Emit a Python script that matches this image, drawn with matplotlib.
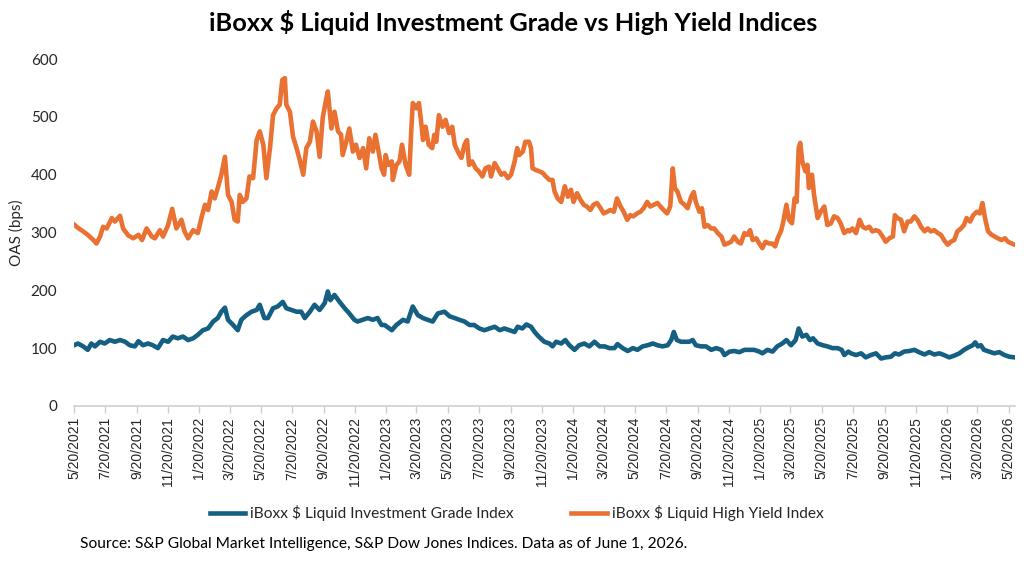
import pandas as pd
import matplotlib
matplotlib.use('Agg')
import matplotlib.pyplot as plt
import matplotlib.dates as mdates
from matplotlib.ticker import FuncFormatter

# iBoxx $ Liquid High Yield Index, OAS (bps)
hy_dates = [
    '2021-05-20', '2021-05-28', '2021-06-07', '2021-06-16', '2021-06-27', '2021-07-03', '2021-07-10', '2021-07-16',
    '2021-07-23', '2021-08-02', '2021-08-08', '2021-08-18', '2021-08-24', '2021-09-03', '2021-09-13', '2021-09-23',
    '2021-09-30', '2021-10-09', '2021-10-19', '2021-10-25', '2021-11-04', '2021-11-10', '2021-11-20', '2021-11-28',
    '2021-12-06', '2021-12-16', '2021-12-22', '2021-12-29', '2022-01-08', '2022-01-17', '2022-01-24', '2022-01-31',
    '2022-02-06', '2022-02-13', '2022-02-19', '2022-02-25', '2022-03-04', '2022-03-11', '2022-03-17', '2022-03-24',
    '2022-03-30', '2022-04-05', '2022-04-09', '2022-04-15', '2022-04-22', '2022-04-28', '2022-05-05', '2022-05-12',
    '2022-05-18', '2022-05-25', '2022-05-31', '2022-06-07', '2022-06-13', '2022-06-20', '2022-06-26', '2022-07-01',
    '2022-07-06', '2022-07-09', '2022-07-16', '2022-07-22', '2022-07-29', '2022-08-04', '2022-08-11', '2022-08-17',
    '2022-08-24', '2022-08-30', '2022-09-06', '2022-09-12', '2022-09-18', '2022-09-25', '2022-09-28', '2022-10-05',
    '2022-10-11', '2022-10-18', '2022-10-24', '2022-10-27', '2022-11-03', '2022-11-09', '2022-11-16', '2022-11-22',
    '2022-11-29', '2022-12-06', '2022-12-12', '2022-12-18', '2022-12-25', '2022-12-30', '2023-01-04', '2023-01-11',
    '2023-01-16', '2023-01-19', '2023-01-24', '2023-01-31', '2023-02-02', '2023-02-09', '2023-02-15', '2023-02-20',
    '2023-02-27', '2023-03-06', '2023-03-10', '2023-03-13', '2023-03-20', '2023-03-25', '2023-03-30', '2023-04-02',
    '2023-04-07', '2023-04-13', '2023-04-20', '2023-04-24', '2023-04-28', '2023-05-03', '2023-05-10', '2023-05-16',
    '2023-05-23', '2023-05-29', '2023-06-03', '2023-06-09', '2023-06-16', '2023-06-22', '2023-06-27', '2023-07-01',
    '2023-07-07', '2023-07-14', '2023-07-20', '2023-07-27', '2023-08-02', '2023-08-09', '2023-08-13', '2023-08-20',
    '2023-08-26', '2023-09-02', '2023-09-08', '2023-09-15', '2023-09-21', '2023-09-28', '2023-10-03', '2023-10-07',
    '2023-10-14', '2023-10-19', '2023-10-26', '2023-10-30', '2023-11-02', '2023-11-09', '2023-11-15', '2023-11-22',
    '2023-11-28', '2023-12-05', '2023-12-11', '2023-12-15', '2023-12-21', '2023-12-28', '2024-01-04', '2024-01-10',
    '2024-01-16', '2024-01-21', '2024-01-28', '2024-02-04', '2024-02-10', '2024-02-16', '2024-02-23', '2024-02-29',
    '2024-03-07', '2024-03-14', '2024-03-20', '2024-03-27', '2024-04-02', '2024-04-09', '2024-04-15', '2024-04-22',
    '2024-04-28', '2024-05-05', '2024-05-11', '2024-05-17', '2024-05-24', '2024-05-31', '2024-06-06', '2024-06-13',
    '2024-06-19', '2024-06-26', '2024-07-03', '2024-07-09', '2024-07-15', '2024-07-22', '2024-07-28', '2024-08-02',
    '2024-08-06', '2024-08-11', '2024-08-18', '2024-08-25', '2024-08-31', '2024-09-07', '2024-09-12', '2024-09-16',
    '2024-09-23', '2024-09-28', '2024-10-03', '2024-10-09', '2024-10-16', '2024-10-22', '2024-10-29', '2024-11-05',
    '2024-11-11', '2024-11-17', '2024-11-24', '2024-11-30', '2024-12-07', '2024-12-13', '2024-12-20', '2024-12-26',
    '2024-12-31', '2025-01-05', '2025-01-12', '2025-01-18', '2025-01-24', '2025-01-30', '2025-02-06', '2025-02-12',
    '2025-02-18', '2025-02-23', '2025-03-02', '2025-03-06', '2025-03-12', '2025-03-17', '2025-03-23', '2025-03-28',
    '2025-04-01', '2025-04-05', '2025-04-08', '2025-04-12', '2025-04-18', '2025-04-22', '2025-04-25', '2025-05-01',
    '2025-05-05', '2025-05-12', '2025-05-18', '2025-05-25', '2025-05-31', '2025-06-07', '2025-06-13', '2025-06-20',
    '2025-06-26', '2025-07-03', '2025-07-10', '2025-07-13', '2025-07-19', '2025-07-26', '2025-08-02', '2025-08-08',
    '2025-08-14', '2025-08-21', '2025-08-27', '2025-09-03', '2025-09-09', '2025-09-16', '2025-09-22', '2025-09-29',
    '2025-10-06', '2025-10-10', '2025-10-15', '2025-10-22', '2025-10-28', '2025-11-04', '2025-11-10', '2025-11-17',
    '2025-11-23', '2025-11-30', '2025-12-07', '2025-12-13', '2025-12-19', '2025-12-26', '2026-01-02', '2026-01-08',
    '2026-01-14', '2026-01-21', '2026-01-27', '2026-02-03', '2026-02-09', '2026-02-16', '2026-02-22', '2026-02-27',
    '2026-03-06', '2026-03-12', '2026-03-19', '2026-03-25', '2026-03-30', '2026-04-04', '2026-04-10', '2026-04-17',
    '2026-04-23', '2026-04-29', '2026-05-06', '2026-05-13', '2026-05-19', '2026-05-26', '2026-06-01',
]
hy_oas = [
    314, 308, 302, 296, 287, 281, 293, 310,
    307, 325, 319, 329, 307, 295, 290, 296,
    287, 307, 293, 290, 304, 293, 313, 341,
    307, 322, 302, 290, 304, 299, 325, 348,
    339, 371, 359, 377, 400, 431, 365, 353,
    322, 319, 365, 353, 359, 397, 394, 460,
    475, 452, 394, 446, 503, 515, 521, 564,
    567, 521, 509, 466, 446, 426, 400, 446,
    457, 492, 475, 431, 498, 532, 544, 480,
    509, 475, 469, 434, 457, 480, 440, 452,
    429, 446, 411, 463, 440, 469, 446, 411,
    400, 434, 417, 423, 391, 417, 423, 452,
    417, 400, 475, 524, 515, 524, 486, 460,
    483, 452, 446, 469, 457, 503, 483, 495,
    472, 483, 452, 440, 429, 452, 460, 417,
    423, 411, 406, 397, 411, 414, 397, 420,
    411, 400, 403, 394, 400, 423, 446, 434,
    440, 457, 457, 446, 411, 408, 406, 403,
    397, 391, 391, 371, 359, 353, 380, 362,
    374, 353, 368, 356, 348, 345, 339, 348,
    351, 342, 333, 336, 339, 336, 359, 345,
    336, 322, 330, 328, 333, 336, 342, 353,
    345, 348, 351, 345, 339, 333, 345, 411,
    377, 371, 353, 348, 342, 362, 370, 353,
    336, 342, 310, 313, 307, 307, 299, 293,
    279, 281, 284, 293, 284, 281, 299, 296,
    304, 287, 290, 281, 273, 284, 281, 281,
    276, 290, 304, 319, 348, 322, 316, 359,
    353, 446, 455, 423, 406, 417, 377, 400,
    365, 325, 336, 345, 313, 316, 328, 325,
    316, 299, 304, 302, 307, 299, 322, 310,
    307, 310, 302, 304, 302, 293, 284, 290,
    293, 330, 325, 322, 302, 319, 319, 328,
    322, 310, 302, 307, 302, 304, 299, 296,
    287, 279, 284, 287, 302, 307, 313, 325,
    319, 330, 336, 333, 351, 325, 302, 296,
    293, 290, 287, 290, 284, 281, 279,
]

# iBoxx $ Liquid Investment Grade Index, OAS (bps)
ig_dates = [
    '2021-05-20', '2021-05-28', '2021-06-07', '2021-06-16', '2021-06-23', '2021-06-30', '2021-07-10', '2021-07-19',
    '2021-07-29', '2021-08-08', '2021-08-18', '2021-08-28', '2021-09-06', '2021-09-16', '2021-09-23', '2021-10-02',
    '2021-10-12', '2021-10-21', '2021-10-31', '2021-11-10', '2021-11-20', '2021-11-29', '2021-12-09', '2021-12-19',
    '2021-12-29', '2022-01-08', '2022-01-17', '2022-01-27', '2022-02-06', '2022-02-16', '2022-02-25', '2022-03-04',
    '2022-03-11', '2022-03-17', '2022-03-27', '2022-04-05', '2022-04-12', '2022-04-22', '2022-05-02', '2022-05-12',
    '2022-05-18', '2022-05-27', '2022-06-03', '2022-06-13', '2022-06-22', '2022-07-02', '2022-07-09', '2022-07-19',
    '2022-07-29', '2022-08-07', '2022-08-14', '2022-08-24', '2022-09-02', '2022-09-12', '2022-09-22', '2022-09-28',
    '2022-10-03', '2022-10-11', '2022-10-21', '2022-10-31', '2022-11-09', '2022-11-19', '2022-11-25', '2022-12-05',
    '2022-12-15', '2022-12-25', '2023-01-03', '2023-01-11', '2023-01-17', '2023-01-31', '2023-02-09', '2023-02-22',
    '2023-03-03', '2023-03-13', '2023-03-23', '2023-04-02', '2023-04-11', '2023-04-21', '2023-05-01', '2023-05-14',
    '2023-05-24', '2023-06-03', '2023-06-12', '2023-06-22', '2023-07-02', '2023-07-11', '2023-07-21', '2023-07-31',
    '2023-08-10', '2023-08-20', '2023-08-30', '2023-09-08', '2023-09-18', '2023-09-28', '2023-10-04', '2023-10-13',
    '2023-10-21', '2023-10-30', '2023-11-06', '2023-11-14', '2023-11-25', '2023-12-05', '2023-12-11', '2023-12-18',
    '2023-12-28', '2024-01-05', '2024-01-13', '2024-01-23', '2024-02-01', '2024-02-11', '2024-02-21', '2024-03-02',
    '2024-03-12', '2024-03-22', '2024-03-31', '2024-04-10', '2024-04-16', '2024-04-26', '2024-05-06', '2024-05-16',
    '2024-05-25', '2024-06-04', '2024-06-14', '2024-06-24', '2024-07-03', '2024-07-13', '2024-07-23', '2024-07-30',
    '2024-08-04', '2024-08-10', '2024-08-18', '2024-08-28', '2024-09-03', '2024-09-10', '2024-09-16', '2024-09-26',
    '2024-10-06', '2024-10-16', '2024-10-26', '2024-11-05', '2024-11-11', '2024-11-21', '2024-11-30', '2024-12-10',
    '2024-12-20', '2024-12-29', '2025-01-08', '2025-01-18', '2025-01-24', '2025-02-03', '2025-02-13', '2025-02-22',
    '2025-03-04', '2025-03-12', '2025-03-21', '2025-03-30', '2025-04-05', '2025-04-12', '2025-04-20', '2025-04-27',
    '2025-05-03', '2025-05-12', '2025-05-22', '2025-05-31', '2025-06-10', '2025-06-20', '2025-06-28', '2025-07-03',
    '2025-07-11', '2025-07-16', '2025-07-26', '2025-08-05', '2025-08-14', '2025-08-24', '2025-09-03', '2025-09-13',
    '2025-09-22', '2025-10-02', '2025-10-10', '2025-10-18', '2025-10-28', '2025-11-07', '2025-11-17', '2025-11-26',
    '2025-12-07', '2025-12-16', '2025-12-26', '2026-01-05', '2026-01-14', '2026-01-24', '2026-02-03', '2026-02-13',
    '2026-02-22', '2026-03-02', '2026-03-11', '2026-03-16', '2026-03-21', '2026-03-27', '2026-04-02', '2026-04-12',
    '2026-04-22', '2026-05-02', '2026-05-12', '2026-05-22', '2026-06-01',
]
ig_oas = [
    105, 108, 103, 97, 108, 103, 111, 108,
    114, 111, 114, 111, 105, 103, 112, 105,
    108, 105, 100, 114, 111, 120, 117, 120,
    114, 117, 123, 131, 134, 146, 152, 163,
    170, 149, 140, 131, 149, 157, 163, 166,
    175, 152, 152, 169, 172, 180, 169, 166,
    163, 163, 152, 163, 175, 166, 178, 198,
    183, 192, 180, 169, 160, 149, 146, 149,
    152, 149, 152, 140, 140, 131, 140, 149,
    146, 172, 157, 152, 149, 146, 160, 163,
    155, 152, 149, 146, 140, 140, 134, 131,
    134, 137, 131, 134, 131, 128, 137, 134,
    141, 137, 128, 120, 111, 108, 103, 111,
    108, 114, 105, 97, 105, 108, 103, 111,
    103, 103, 100, 100, 107, 100, 95, 100,
    97, 103, 105, 108, 105, 103, 105, 114,
    128, 114, 111, 111, 111, 114, 105, 103,
    103, 97, 100, 97, 88, 94, 95, 93,
    97, 97, 97, 94, 91, 97, 94, 103,
    108, 114, 105, 114, 134, 120, 123, 114,
    117, 108, 105, 103, 100, 100, 97, 88,
    94, 91, 88, 91, 84, 88, 91, 82,
    84, 85, 91, 89, 94, 95, 97, 93,
    89, 93, 89, 91, 88, 84, 87, 91,
    97, 101, 105, 110, 103, 105, 97, 94,
    91, 93, 88, 85, 84,
]

x_start = '2021-05-20'
x_end = '2026-06-01'
y_ticks = [0, 100, 200, 300, 400, 500, 600]

title = 'iBoxx $ Liquid Investment Grade vs High Yield Indices'
ig_name = 'iBoxx $ Liquid Investment Grade Index'
hy_name = 'iBoxx $ Liquid High Yield Index'
source = 'Source: S&P Global Market Intelligence, S&P Dow Jones Indices. Data as of June 1, 2026.'

blue = '#156082'
orange = '#E97132'
txt = '#262626'
axis_grey = '#D0D0D0'

fig = plt.figure(figsize=(10.27, 5.63), dpi=100)
ax = fig.add_axes([0.072, 0.279, 0.916, 0.616])

ax.plot(pd.to_datetime(ig_dates), ig_oas, color=blue, lw=3.3, label=ig_name, solid_joinstyle='round')
ax.plot(pd.to_datetime(hy_dates), hy_oas, color=orange, lw=3.3, label=hy_name, solid_joinstyle='round')

ax.set_xlim(pd.Timestamp(x_start), pd.Timestamp(x_end))
ax.set_ylim(0, 600)
ax.set_yticks(y_ticks)

ax.xaxis.set_major_locator(mdates.MonthLocator(bymonth=(1, 3, 5, 7, 9, 11), bymonthday=20))
ax.xaxis.set_major_formatter(FuncFormatter(
    lambda v, p: '{d.month}/{d.day}/{d.year}'.format(d=mdates.num2date(v))))

for s in ['top', 'right', 'left']:
    ax.spines[s].set_visible(False)
ax.spines['bottom'].set_color(axis_grey)
ax.spines['bottom'].set_linewidth(1.2)
ax.tick_params(axis='x', which='major', direction='out', length=5, width=1.0, color=axis_grey,
               labelsize=10, labelcolor=txt, rotation=90, pad=3)
ax.tick_params(axis='y', length=0, labelsize=11, labelcolor=txt, pad=12)
for lab in ax.get_xticklabels():
    lab.set_fontfamily('Liberation Sans')
for lab in ax.get_yticklabels():
    lab.set_fontfamily('Lato')

ax.set_ylabel('OAS (bps)', fontsize=11, color=txt, family='Lato', labelpad=5)

fig.suptitle(title, x=0.5, y=0.982, fontsize=18.3, fontweight='bold', family='Lato', color='black')

fig.legend(loc='center', bbox_to_anchor=(0.503, 0.088), ncol=2, frameon=False,
           prop={'family': 'Lato', 'size': 11.2}, handlelength=2.3, handletextpad=0.3,
           columnspacing=3.7, labelcolor=txt)

fig.text(0.078, 0.026, source, fontsize=11.2, family='Lato', color='black')

fig.savefig('out.png', dpi=100)
